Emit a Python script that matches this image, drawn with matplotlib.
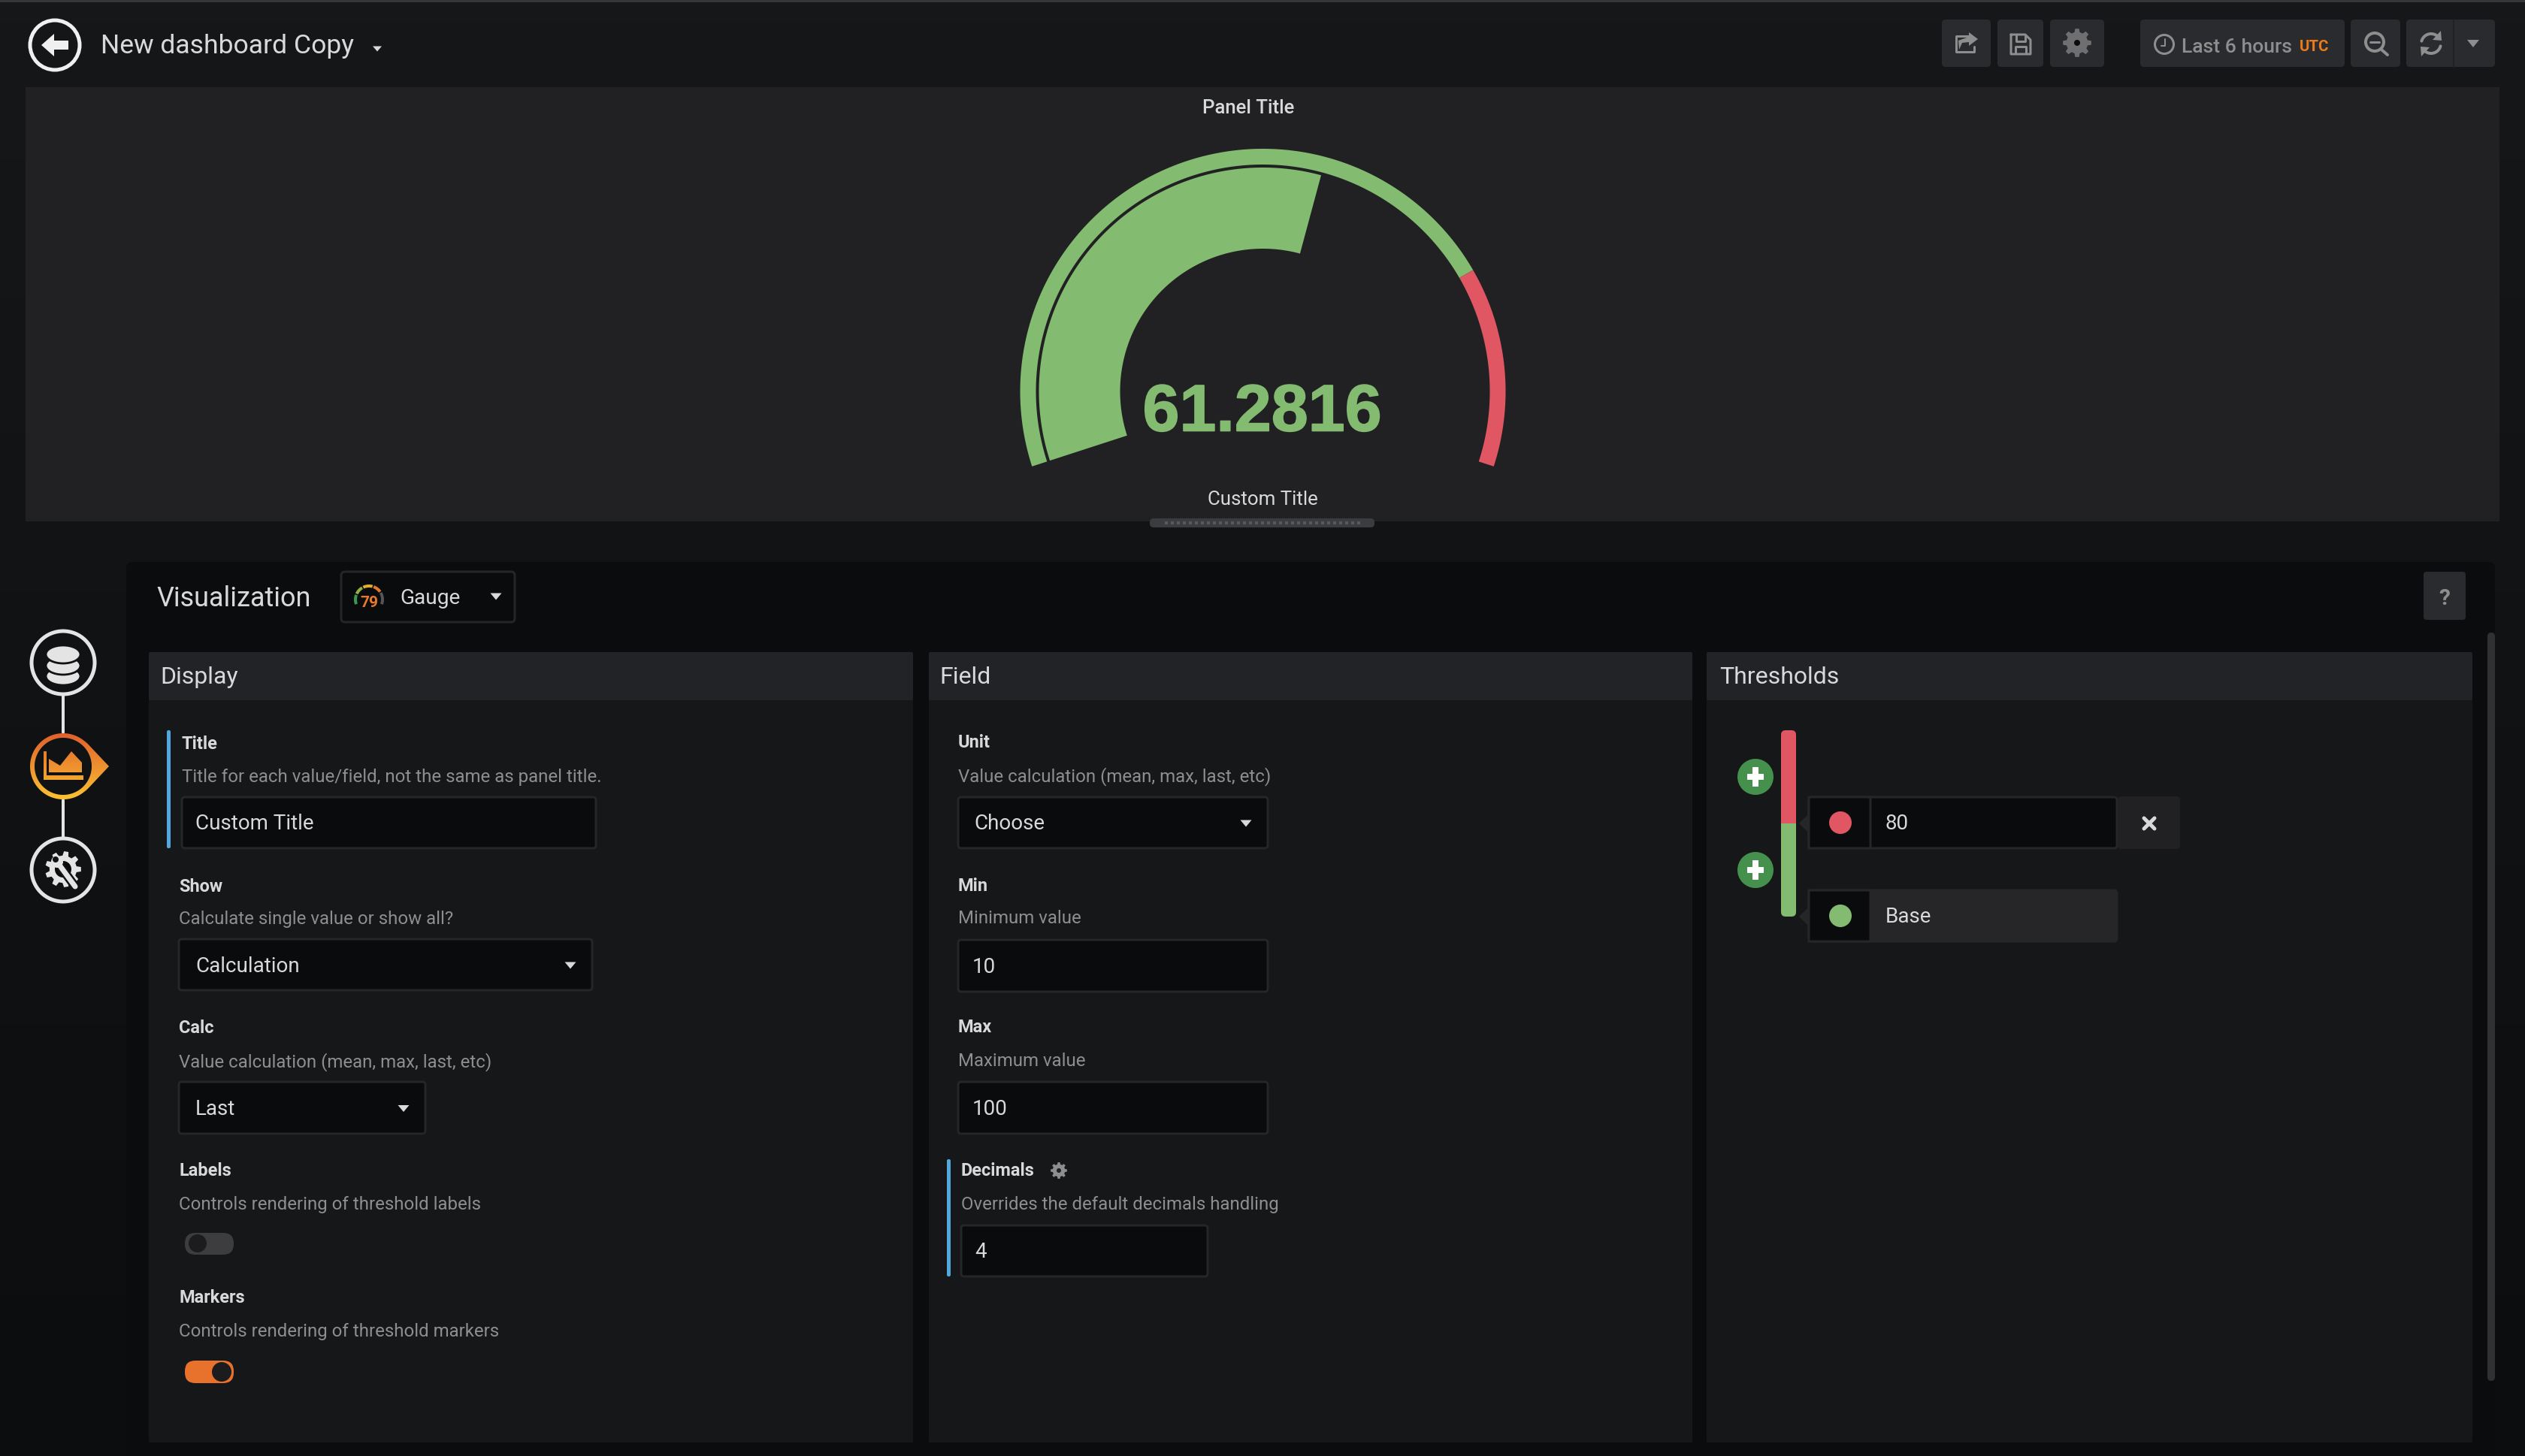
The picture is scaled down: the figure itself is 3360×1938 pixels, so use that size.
import numpy as np
import matplotlib
matplotlib.use('Agg')
import matplotlib.pyplot as plt
import matplotlib.patheffects as pe
from matplotlib.patches import FancyBboxPatch, Circle, Ellipse, Polygon, PathPatch
from matplotlib.path import Path

# Font
plt.rcParams['font.family'] = ['Roboto', 'DejaVu Sans']

# Gauge values
gauge_min = 10
gauge_max = 100
gauge_value = 61.2816
gauge_threshold = 80
gauge_decimals = 4
start_angle = 198
sweep_angle = 216

# Texts
dashboard_title = 'New dashboard Copy'
panel_title = 'Panel Title'
field_title = 'Custom Title'
time_range = 'Last 6 hours'
section_names = ['Display', 'Field', 'Thresholds']
display_labels = ['Title', 'Show', 'Calc', 'Labels', 'Markers']
display_descs = ['Title for each value/field, not the same as panel title.',
                 'Calculate single value or show all?',
                 'Value calculation (mean, max, last, etc)',
                 'Controls rendering of threshold labels',
                 'Controls rendering of threshold markers']
field_labels = ['Unit', 'Min', 'Max', 'Decimals']
field_descs = ['Value calculation (mean, max, last, etc)', 'Minimum value',
               'Maximum value', 'Overrides the default decimals handling']

# Colours
GREEN = '#83bb70'
RED = '#e05663'
TXT = '#d8d9da'
GREY = '#8e8e8e'
PANEL = '#212124'
BODY = '#161719'
INPUT = '#0a0b0d'
BORDER = '#262628'
BTN = '#2a2b2e'

W, H = 3360, 1938
PX = 72 / 200  # points per output pixel

fig = plt.figure(figsize=(W / 200, H / 200), dpi=200)
ax = fig.add_axes([0, 0, 1, 1])
ax.set_xlim(0, W)
ax.set_ylim(H, 0)
ax.axis('off')


def rect(x0, y0, x1, y1, color, r=0, ec='none', lw=0, z=1):
    p = FancyBboxPatch((x0, y0), x1 - x0, y1 - y0, boxstyle='round,pad=0,rounding_size=%g' % r,
                       fc=color, ec=ec, lw=lw * PX, zorder=z)
    ax.add_patch(p)
    return p


def txt(x, y, s, size=24, color=TXT, weight='normal', ha='left', z=5):
    ax.text(x, y - 2, s, fontsize=size * PX, color=color, fontweight=weight, ha=ha,
            va='center_baseline', zorder=z)


def caret(x, y, color=TXT, w=15, h=9):
    ax.add_patch(Polygon([(x - w / 2, y - h / 2), (x + w / 2, y - h / 2), (x, y + h / 2)],
                         fc=color, ec='none', zorder=5))


def circle(x, y, r, fc='none', ec='none', lw=0, z=4):
    ax.add_patch(Circle((x, y), r, fc=fc, ec=ec, lw=lw * PX, zorder=z))


def line(xs, ys, color=GREY, lw=3, z=5):
    ax.plot(xs, ys, color=color, lw=lw * PX, solid_capstyle='round', zorder=z)


def ring(cx, cy, r0, r1, a0, a1, color, z=3):
    # annular sector, angles in degrees counterclockwise from +x
    t = np.radians(np.linspace(a0, a1, 200))
    xs = np.r_[cx + r1 * np.cos(t), cx + r0 * np.cos(t[::-1])]
    ys = np.r_[cy - r1 * np.sin(t), cy - r0 * np.sin(t[::-1])]
    ax.fill(xs, ys, color=color, lw=0, zorder=z)


def gear(cx, cy, r, color, hole=None, teeth=8, z=5):
    pts = []
    for i in range(teeth):
        a = 2 * np.pi * i / teeth
        d = np.pi / teeth
        for da, rr in [(-0.62 * d, 0.76), (-0.36 * d, 1.0), (0.36 * d, 1.0), (0.62 * d, 0.76)]:
            pts.append((cx + r * rr * np.cos(a + da), cy + r * rr * np.sin(a + da)))
    ax.add_patch(Polygon(pts, fc=color, ec='none', zorder=z))
    if hole:
        circle(cx, cy, hole, fc=PANEL if color == GREY else INPUT, z=z + 0.1)


def gradient_fill(path, x0, y0, x1, y1, top, bottom, z=5):
    c0 = np.array(matplotlib.colors.to_rgb(top))
    c1 = np.array(matplotlib.colors.to_rgb(bottom))
    t = np.linspace(0, 1, 128)[:, None, None]
    im = ax.imshow(c0 * (1 - t) + c1 * t, extent=(x0, x1, y1, y0), aspect='auto', zorder=z)
    patch = PathPatch(path, transform=ax.transData, fc='none', ec='none')
    ax.add_patch(patch)
    im.set_clip_path(patch)


# Page background
t = np.linspace(0, 1, 64)[:, None, None]
bg = np.array(matplotlib.colors.to_rgb('#161719')) * (1 - t) + np.array(matplotlib.colors.to_rgb('#0c0d0f')) * t
ax.imshow(bg, extent=(0, W, H, 0), aspect='auto', zorder=0)
ax.set_xlim(0, W)
ax.set_ylim(H, 0)
rect(0, 0, W, 3, '#34383b', z=0.5)

# Top bar
circle(73, 60, 33, ec='#f0f0f0', lw=5)
ax.add_patch(Polygon([(55, 60), (72, 45), (72, 54), (91, 54), (91, 66), (72, 66), (72, 75)],
                     fc='#f0f0f0', ec='none', zorder=5))
txt(134, 60, dashboard_title, size=35.5)
caret(502, 65, w=12, h=7)

for x0, x1 in [(2584, 2649), (2658, 2719), (2728, 2800), (2848, 3120), (3128, 3194), (3202, 3320)]:
    rect(x0, 26, x1, 89, BTN, r=5)
line([3265, 3265], [26, 89], color='#212124', lw=2)
# share
line([2620, 2603, 2603, 2627, 2627], [48, 48, 69, 69, 62], lw=3)
ax.add_patch(Polygon([(2620, 43), (2632, 52), (2620, 61), (2620, 56), (2611, 57), (2607, 66),
                      (2606, 54), (2620, 49)], fc=GREY, ec='none', zorder=5))
# save
line([2676, 2695, 2702, 2702, 2676, 2676], [46, 46, 53, 72, 72, 46], lw=3)
line([2683, 2683, 2695, 2695], [47, 55, 55, 47], lw=3)
line([2682, 2682, 2696, 2696], [71, 62, 62, 71], lw=3)
gear(2764, 57, 19, '#6f6f71', hole=4)
# time range
circle(2880, 59, 12.5, ec=GREY, lw=3, z=5)
line([2881, 2881, 2876], [52, 61, 61], lw=2)
txt(2903, 62, time_range, size=26.5, color=GREY, weight='medium')
txt(3060, 62, 'UTC', size=20.5, color='#eb7b18', weight='bold')
# zoom out
circle(3160, 56, 12, ec=GREY, lw=4, z=5)
line([3154, 3166], [56, 56], lw=3)
line([3169, 3177], [66, 73], lw=4)
# refresh
t_a = np.radians(np.linspace(35, 165, 30))
line(3235 + 13 * np.cos(t_a), 58 - 13 * np.sin(t_a), lw=4)
t_b = np.radians(np.linspace(215, 345, 30))
line(3235 + 13 * np.cos(t_b), 58 - 13 * np.sin(t_b), lw=4)
ax.add_patch(Polygon([(3248, 41), (3249, 54), (3237, 53)], fc=GREY, ec='none', zorder=5))
ax.add_patch(Polygon([(3222, 75), (3221, 62), (3233, 63)], fc=GREY, ec='none', zorder=5))
caret(3291, 58, color=GREY, w=16, h=10)

# Panel
rect(34, 116, 3326, 694, PANEL, z=1)
txt(1661, 143, panel_title, size=25.7, weight='medium', ha='center')

# Gauge, angles come from the values
cx, cy = 1680.5, 521


def to_angle(v):
    return start_angle - sweep_angle * (v - gauge_min) / (gauge_max - gauge_min)


ring(cx, cy, 302, 323, to_angle(gauge_threshold), to_angle(gauge_min), GREEN)
ring(cx, cy, 302, 323, to_angle(gauge_max), to_angle(gauge_threshold), RED)
ring(cx, cy, 190, 298, to_angle(gauge_value), to_angle(gauge_min), GREEN)
value_text = ax.text(cx - 1, 542, '%.*f' % (gauge_decimals, gauge_value), fontsize=88 * PX, color=GREEN,
                     fontweight='bold', ha='center', va='center_baseline', family='Liberation Sans', zorder=5)
value_text.set_path_effects([pe.withStroke(linewidth=1.6 * PX, foreground=GREEN)])
txt(cx, 664, field_title, size=25.9, ha='center')

# Resize handle
rect(1530, 690, 1829, 702, '#3b3c3f', r=5, z=2)
for x in np.arange(1550, 1812, 8):
    rect(x, 694, x + 4, 698, '#57585b', z=3)

# Editor
rect(168, 748, 3320, H + 20, '#0b0c0e', r=8, z=1)
txt(208, 795, 'Visualization', size=36)
rect(454, 761, 685, 828, '#0a0b0d', r=5, ec=BORDER, lw=3, z=2)
# small gauge icon in the dropdown
small = [(200, 160, '#3a9a4d'), (155, 120, '#96b23e'), (115, 75, '#e0b030'), (70, 35, '#e8792b'), (30, -20, '#555555')]
for a0, a1, col in small:
    ring(491, 798, 16, 20, a1, a0, col, z=4)
txt(491, 802, '79', size=21, color='#e8792b', weight='bold', ha='center')
txt(532, 795, 'Gauge', size=28)
caret(660, 794, w=15, h=9)
rect(3225, 761, 3281, 825, BTN, r=4, z=2)
txt(3253, 796, '?', size=30, color=GREY, weight='bold', ha='center')
rect(3310, 842, 3320, 1838, '#303133', r=5, z=2)

# Left steps
for yc in [882, 1158]:
    circle(84, yc, 42, ec='#e4e4e4', lw=5, fc='#111214')
line([84, 84], [926, 975], color='#e4e4e4', lw=4, z=3)
line([84, 84], [1065, 1114], color='#e4e4e4', lw=4, z=3)
# database icon
for yy, h in [(900, 24), (886, 24)]:
    ax.add_patch(Ellipse((84, yy), 46, h, fc='#e4e4e4', ec='#111214', lw=1, zorder=5))
ax.add_patch(Ellipse((84, 871), 46, 24, fc='#e4e4e4', ec='#111214', lw=1, zorder=5.1))
# gear and wrench icon
gear(84, 1157, 24, '#e4e4e4', hole=11, teeth=9)
line([78, 100], [1150, 1180], color='#111214', lw=12, z=6)
line([78, 100], [1150, 1180], color='#e4e4e4', lw=7, z=6.1)
circle(76, 1147, 8, fc='#e4e4e4', z=6.2)
circle(74, 1144, 4, fc='#111214', z=6.3)
# active step with gradient
t = np.linspace(0, 2 * np.pi, 120)
tip_a = np.radians(38)
outer = [(84 + 44 * np.cos(a), 1020 + 44 * np.sin(a)) for a in np.linspace(tip_a, 2 * np.pi - tip_a, 100)]
outer += [(112, 985), (145, 1020), (112, 1055)]
inner = [(84 + 38 * np.cos(a), 1020 + 38 * np.sin(a)) for a in t[::-1]]
ring_path = Path(outer + [outer[0]] + inner,
                 [Path.MOVETO] + [Path.LINETO] * len(outer) + [Path.MOVETO] + [Path.LINETO] * (len(inner) - 1))
circle(84, 1020, 40, fc='#111214', z=3.5)
gradient_fill(ring_path, 30, 976, 150, 1064, '#e0602c', '#fbc233')
area = Path([(58, 1000), (62, 1000), (62, 1032), (111, 1032), (111, 1038), (58, 1038), (58, 1000)])
gradient_fill(area, 30, 976, 150, 1064, '#e0602c', '#fbc233', z=5.1)
peaks = Path([(65, 1028), (65, 1010), (80, 1019), (95, 1000), (109, 1015), (109, 1028), (65, 1028)])
gradient_fill(peaks, 30, 976, 150, 1064, '#e0602c', '#fbc233', z=5.2)

# Section boxes
for (x0, x1), name, tx in zip([(198, 1215), (1236, 2252), (2271, 3290)], section_names, [213, 1250, 2288]):
    rect(x0, 868, x1, 1920, BODY, r=2, z=2)
    rect(x0, 868, x1, 932, '#212327', r=2, z=2.1)
    txt(tx, 900, name, size=32)


def field_box(x0, y0, x1, y1, s, tx=None, drop=False, fc=INPUT):
    rect(x0, y0, x1, y1, fc, r=4, ec=BORDER, lw=3, z=3)
    txt((x0 + 20) if tx is None else tx, (y0 + y1) / 2 + 1, s, size=27.8)
    if drop:
        caret(x1 - 29, (y0 + y1) / 2 + 1)


# Display column
ys_label = [990, 1180, 1368, 1558, 1727]
ys_desc = [1034, 1223, 1413, 1603, 1772]
for i, (lab, des) in enumerate(zip(display_labels, display_descs)):
    x = 242 if i == 0 else 238
    txt(x, ys_label[i], lab, size=23.5, weight='bold')
    txt(x, ys_desc[i], des, size=24, color=GREY)
rect(222, 972, 227, 1129, '#52a7dc', r=2, z=3)
field_box(242, 1061, 793, 1129, field_title, tx=260)
field_box(238, 1250, 788, 1318, 'Calculation', tx=260, drop=True)
field_box(238, 1440, 566, 1509, 'Last', tx=260, drop=True)
# toggles
rect(246, 1641, 311, 1670, '#3d3d3f', r=14, z=3)
circle(263, 1655, 12, fc='#1c1c1e', z=4)
rect(246, 1811, 311, 1841, '#e8722c', r=14, z=3)
circle(295, 1826, 13, fc='#1c1c1e', z=4)

# Field column
ys_label = [988, 1179, 1367, 1558]
ys_desc = [1033, 1222, 1412, 1603]
for i, (lab, des) in enumerate(zip(field_labels, field_descs)):
    x = 1279 if i == 3 else 1275
    txt(x, ys_label[i], lab, size=23.5, weight='bold')
    txt(x, ys_desc[i], des, size=24, color=GREY)
gear(1409, 1558, 11, GREY, hole=3, teeth=8)
rect(1260, 1543, 1265, 1699, '#52a7dc', r=2, z=3)
field_box(1275, 1061, 1687, 1129, 'Choose', tx=1296, drop=True)
field_box(1275, 1251, 1687, 1320, str(gauge_min), tx=1294)
field_box(1275, 1440, 1687, 1509, str(gauge_max), tx=1294)
field_box(1279, 1631, 1607, 1699, str(gauge_decimals), tx=1297)

# Thresholds column
rect(2370, 972, 2390, 1110, RED, r=6, z=3)
rect(2370, 1096, 2390, 1220, GREEN, r=6, z=3.1)
rect(2370, 1096, 2390, 1110, GREEN, z=3.2)
for yc in [1034, 1158]:
    circle(2336, yc, 24, fc='#45904c')
    rect(2332, yc - 13, 2340, yc + 13, '#ffffff', r=1, z=5)
    rect(2325, yc - 4, 2347, yc + 4, '#ffffff', r=1, z=5)
for yc in [1096, 1220]:
    ax.add_patch(Polygon([(2394, yc), (2406, yc - 12), (2406, yc + 12)], fc=BORDER, ec='none', zorder=3))
field_box(2407, 1061, 2817, 1129, str(gauge_threshold), tx=2509)
field_box(2407, 1185, 2817, 1253, 'Base', tx=2509, fc=BORDER)
rect(2407, 1061, 2489, 1129, INPUT, ec=BORDER, lw=3, z=3.5)
rect(2407, 1185, 2489, 1253, INPUT, ec=BORDER, lw=3, z=3.5)
circle(2449, 1095, 15, fc=RED, z=4)
circle(2449, 1219, 15, fc=GREEN, z=4)
rect(2818, 1060, 2901, 1130, PANEL, r=5, z=3)
line([2853, 2867], [1089, 1103], color=TXT, lw=5)
line([2853, 2867], [1103, 1089], color=TXT, lw=5)

ax.set_xlim(0, W)
ax.set_ylim(H, 0)
fig.savefig('out.png', dpi=200, facecolor='#161719')
